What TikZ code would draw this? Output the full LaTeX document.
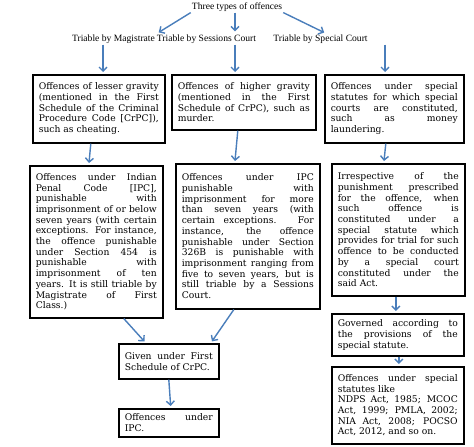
\documentclass[tikz,border=0pt]{standalone}
\usepackage{fontspec}
\setmainfont{DejaVu Serif}
\newfontfamily\titlefont{Liberation Serif}
\usepackage{tikz}
\usetikzlibrary{arrows.meta}
\definecolor{arrowblue}{HTML}{4A7EBB}
\hyphenpenalty=10000
\exhyphenpenalty=10000

\begin{document}
\begin{tikzpicture}[x=1pt, y=-1pt,
  head/.style={font=\titlefont\fontsize{9.6}{10}\selectfont, inner sep=1pt, anchor=center},
  box/.style={draw, line width=1.6pt, anchor=north west, inner xsep=6pt, inner ysep=3pt,
    align=justify, font=\fontsize{9.2}{10.7}\selectfont},
  link/.style={draw=arrowblue, line width=1.4pt, -{Straight Barb[length=4pt, width=8pt]}, shorten >=2pt}]
\useasboundingbox (0,0) rectangle (474,447);

\node[head] (three) at (237,7) {Three types of offences};
\node[head] (magis) at (113.5,39) {Triable by Magistrate};
\node[head] (sess) at (206.5,39) {Triable by Sessions Court};
\node[head] (spec) at (320.5,39) {Triable by Special Court};

\node[box, text width=120pt, minimum height=68pt] (lesser) at (32,74) {Offences of lesser gravity\linebreak (mentioned in the First\linebreak Schedule of the Criminal\linebreak Procedure Code [CrPC]),\linebreak such as cheating.};
\node[box, text width=132pt, minimum height=55pt] (higher) at (171,74) {Offences of higher gravity\linebreak (mentioned in the First\linebreak Schedule of CrPC), such as\linebreak murder.};
\node[box, text width=127pt, minimum height=68pt] (special) at (324,74) {Offences under special\linebreak statutes for which special\linebreak courts are constituted,\linebreak such as money\linebreak laundering.};

\node[box, text width=121pt, minimum height=152pt] (ipcless) at (29,165) {Offences under Indian\linebreak Penal Code [IPC],\linebreak punishable with\linebreak imprisonment of or below\linebreak seven years (with certain\linebreak exceptions. For instance,\linebreak the offence punishable\linebreak under Section 454 is\linebreak punishable with\linebreak imprisonment of ten\linebreak years. It is still triable by\linebreak Magistrate of First\linebreak Class.)};
\node[box, text width=132pt, minimum height=145pt] (ipcmore) at (175,163) {Offences under IPC\linebreak punishable with\linebreak imprisonment for more\linebreak than seven years (with\linebreak certain exceptions. For\linebreak instance, the offence\linebreak punishable under Section\linebreak 326B is punishable with\linebreak imprisonment ranging from\linebreak five to seven years, but is\linebreak still triable by a Sessions\linebreak Court.};
\node[box, text width=121pt, minimum height=132pt] (irresp) at (331,163) {Irrespective of the\linebreak punishment prescribed\linebreak for the offence, when\linebreak such offence is\linebreak constituted under a\linebreak special statute which\linebreak provides for trial for such\linebreak offence to be conducted\linebreak by a special court\linebreak constituted under the\linebreak said Act.};

\node[box, text width=120pt, minimum height=42pt] (governed) at (331,313) {Governed according to\linebreak the provisions of the\linebreak special statute.};
\node[box, text width=120pt, minimum height=77pt] (statutes) at (331,366) {Offences under special\linebreak statutes like\\ NDPS Act, 1985; MCOC\linebreak Act, 1999; PMLA, 2002;\linebreak NIA Act, 2008; POCSO\linebreak Act, 2012, and so on.};

\node[box, text width=88pt, minimum height=35pt] (given) at (118,343) {Given under First\linebreak Schedule of CrPC.};
\node[box, text width=88pt, minimum height=28pt] (underipc) at (118,408) {Offences under\linebreak IPC.};

\draw[link] (three.south west) -- ([xshift=43.5pt]magis.north);
\draw[link] ([xshift=-2pt]three.south) -- ([xshift=-2pt]three.south |- sess.north);
\draw[link] (three.south east) -- ([xshift=5.5pt]spec.north);

\draw[link] ([xshift=-10.5pt]magis.south) -- ([xshift=-10.5pt]magis.south |- lesser.north);
\draw[link] ([xshift=28.5pt]sess.south) -- ([xshift=28.5pt]sess.south |- higher.north);
\draw[link] ([xshift=64.5pt]spec.south) -- ([xshift=64.5pt]spec.south |- special.north);

\draw[link] ([xshift=-8pt]lesser.south) -- ([xshift=-7.5pt]ipcless.north);
\draw[link] ([xshift=-6pt]higher.south) -- ([xshift=-13pt]ipcmore.north);
\draw[link] ([xshift=-8.5pt]special.south) -- ([xshift=-14.5pt]irresp.north);
\draw[link] ([xshift=-2.5pt]irresp.south) -- ([xshift=-2pt]governed.north);
\draw[link] ([xshift=1pt]governed.south) -- ([xshift=1pt]statutes.north);

\draw[link] ([xshift=27.5pt]ipcless.south) -- ([xshift=-23pt]given.north);
\draw[link] ([xshift=-14pt]ipcmore.south) -- ([xshift=42pt]given.north);
\draw[link] (given.south) -- ([xshift=2pt]underipc.north);
\end{tikzpicture}
\end{document}
